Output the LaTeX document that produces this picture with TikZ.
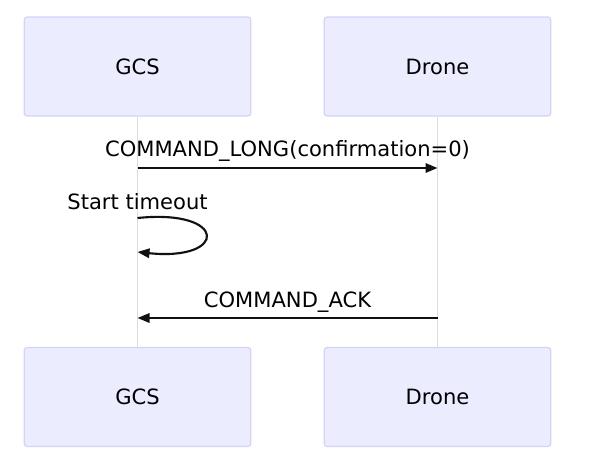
\documentclass[tikz,border=0pt]{standalone}
\usepackage{fontspec}
\setmainfont{DejaVu Sans}
\usetikzlibrary{arrows.meta}
\definecolor{actorfill}{HTML}{ECECFF}
\definecolor{actorline}{HTML}{D3D3FA}
\definecolor{lifeline}{HTML}{DDDDDD}
\definecolor{signal}{HTML}{111111}
\begin{document}
\begin{tikzpicture}[
  x=0.75pt,
  y=-0.75pt,
  every node/.style={font=\fontsize{15.8pt}{18pt}\selectfont, text=black},
  actor/.style={draw=actorline, fill=actorfill, line width=0.9pt,
    rounded corners=2.25pt, minimum width=170pt, minimum height=74.25pt},
  life/.style={lifeline, line width=1.3pt},
  msg/.style={signal, line width=1.6pt, -{Triangle[length=9pt, width=7pt]}},
  msglabel/.style={inner sep=0pt, anchor=base}
]
  % ---- page size, as the reference
  \path (0,0) rectangle (591,464);

  % ---- actors, top and bottom ------------------------------------------
  \node[actor] (gcsTop)    at (137.5,66.5) {GCS};
  \node[actor] (droneTop)  at (437.5,66.5) {Drone};
  \node[actor] (gcsBot)    at (137.5,397)  {GCS};
  \node[actor] (droneBot)  at (437.5,397)  {Drone};

  % ---- lifelines -------------------------------------------------------
  \draw[life] (gcsTop.south) -- (gcsBot.north);
  \draw[life] (droneTop.south) -- (droneBot.north);

  % ---- points on the lifelines -----------------------------------------
  \coordinate (gcsLong)    at (137.5,168);
  \coordinate (droneLong)  at (437.5,168);
  \coordinate (loopStart)  at (137.5,218);
  \coordinate (loopEnd)    at (137.5,252);
  \coordinate (droneAck)   at (437.5,318);
  \coordinate (gcsAck)     at (137.5,318);

  % ---- messages --------------------------------------------------------
  \draw[msg] (gcsLong) -- (droneLong);
  \node[msglabel] (longText) at (287.5,156) {COMMAND\_LONG(confirmation=0)};

  \draw[msg] (loopStart) .. controls ([xshift=68pt,yshift=7pt]loopStart)
    and ([xshift=68pt,yshift=-7pt]loopEnd) .. (loopEnd);
  \node[msglabel] (loopText) at (137.5,209) {Start timeout};

  \draw[msg] (droneAck) -- (gcsAck);
  \node[msglabel] (ackText) at (287.5,307) {COMMAND\_ACK};
\end{tikzpicture}
\end{document}
